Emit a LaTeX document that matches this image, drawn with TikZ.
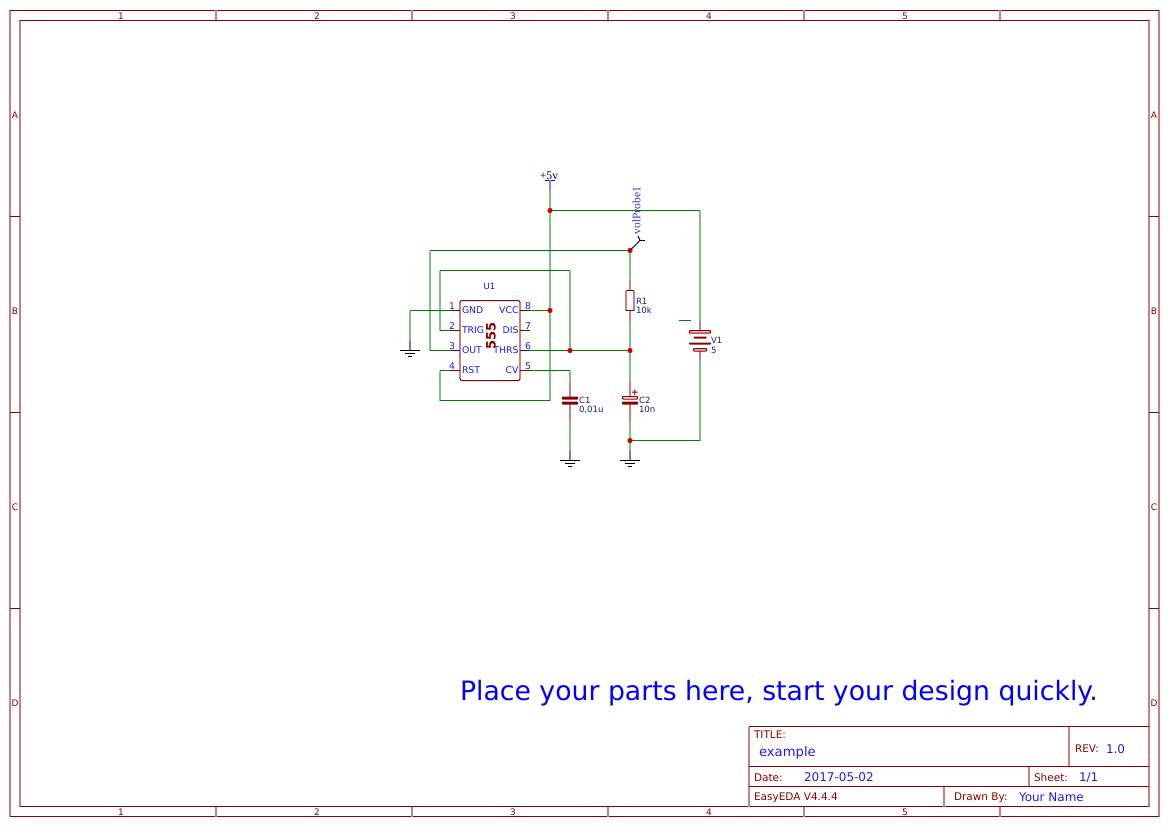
\documentclass[tikz,border=0pt]{standalone}
\usepackage{fontspec}
\setmainfont{DejaVu Sans}
\newfontfamily\serifprobe{Liberation Serif}
\newcommand{\fsz}[1]{\fontsize{\dimexpr#1pt*3/4\relax}{\dimexpr#1pt*9/10\relax}\selectfont}
\definecolor{edared}{HTML}{8C0000}
\definecolor{edaredv}{HTML}{C88080}
\definecolor{wiregreen}{HTML}{008000}
\definecolor{wiregreenv}{HTML}{80C080}
\definecolor{junction}{HTML}{CC0000}
\definecolor{pintext}{HTML}{1A1AFF}
\definecolor{refnavy}{HTML}{1A1A8C}
\definecolor{probetext}{HTML}{3333CC}
\definecolor{vcctext}{HTML}{000050}
\tikzset{
  base/.style={inner sep=0pt,outer sep=0pt},
  frameline/.style={draw=edared,line width=0.75pt},
  framev/.style={draw=edaredv,line width=1.5pt},
  wire/.style={draw=wiregreen,line width=0.75pt},
  vwire/.style={draw=wiregreenv,line width=1.5pt},
  pinline/.style={draw=edared,line width=0.75pt},
  pinv/.style={draw=edaredv,line width=1.5pt},
  groundline/.style={draw=black,line width=0.75pt},
  groundstem/.style={draw=black!50,line width=1.5pt},
  dot/.style={base,circle,fill=junction,minimum size=3.7pt},
  frametext/.style={base,text=edared,font=\fsz{9}},
  chiptext/.style={base,text=pintext,font=\fsz{9.3}},
  reftext/.style={base,text=refnavy,font=\fsz{8.6},anchor=west},
  titlered/.style={base,text=edared,font=\fsz{10.5},anchor=west},
  titleblue/.style={base,text=pintext,font=\fsz{12},anchor=west},
  plate/.style={fill=edared,draw=none,rounded corners=0.5pt},
  hollowplate/.style={draw=edared,fill=edaredv!40,line width=0.75pt,rounded corners=0.5pt},
}
\begin{document}
\begin{tikzpicture}[x=0.75pt,y=-0.75pt]
\useasboundingbox (0,-0.5) rectangle (1169,826.5);
% sheet frame
\draw[framev] (10,10) -- (10,816);
\draw[framev] (1159,10) -- (1159,816);
\draw[framev] (20,20) -- (20,806);
\draw[framev] (1149,20) -- (1149,806);
\draw[frameline] (10,10) -- (1159,10);
\draw[frameline] (10,816) -- (1159,816);
\draw[frameline] (20,20) -- (1149,20);
\draw[frameline] (20,806) -- (1149,806);
\foreach \x in {216,412,608,804,1000}{
  \draw[framev] (\x,10) -- (\x,20);
  \draw[framev] (\x,806) -- (\x,816);
}
\foreach \y in {216,412,608}{
  \draw[frameline] (10,\y) -- (20,\y);
  \draw[frameline] (1149,\y) -- (1159,\y);
}
\foreach \t/\x in {1/121,2/317,3/513,4/709,5/905}{
  \node[frametext] (top\t) at (\x,15.5) {\t};
  \node[frametext] (bot\t) at (\x,811.5) {\t};
}
\foreach \t/\y in {A/115,B/311,C/507,D/703}{
  \node[frametext] (left\t) at (15,\y) {\t};
  \node[frametext] (right\t) at (1154,\y) {\t};
}
% title block
\draw[framev] (749,726) -- (749,806);
\draw[framev] (1069,726) -- (1069,766);
\draw[framev] (1029,766) -- (1029,786);
\draw[framev] (944,786) -- (944,806);
\draw[frameline] (749,726) -- (1149,726);
\draw[frameline] (749,766) -- (1149,766);
\draw[frameline] (749,786) -- (1149,786);
\node[titlered] (ttitle) at (754,734.5) {TITLE:};
\node[base,text=pintext,font=\fsz{13.2},anchor=west] (tex) at (759,752.5) {example};
\node[titlered] (trev) at (1075,748) {REV:};
\node[titleblue] (trevv) at (1106,748.5) {1.0};
\node[titlered] (tdate) at (754,777.5) {Date:};
\node[titleblue] (tdatev) at (804,776.5) {2017-05-02};
\node[titlered] (tsheet) at (1034,777.5) {Sheet:};
\node[titleblue] (tsheetv) at (1079,777) {1/1};
\node[titlered] (teda) at (754,797.5) {EasyEDA V4.4.4};
\node[titlered] (tdrawn) at (954,797.5) {Drawn By:};
\node[titleblue] (tname) at (1019,797) {Your Name};
\node[base,text=blue,font=\fsz{26.7},anchor=west] (place) at (460,692.5) {Place your parts here, start your design quickly.};
% anchor points
\coordinate (p1) at (450,310);\coordinate (p1i) at (460,310);
\coordinate (p2) at (450,330);\coordinate (p2i) at (460,330);
\coordinate (p3) at (450,350);\coordinate (p3i) at (460,350);
\coordinate (p4) at (450,370);\coordinate (p4i) at (460,370);
\coordinate (p8) at (530,310);\coordinate (p8i) at (520,310);
\coordinate (p7) at (530,330);\coordinate (p7i) at (520,330);
\coordinate (p6) at (530,350);\coordinate (p6i) at (520,350);
\coordinate (p5) at (530,370);\coordinate (p5i) at (520,370);
\coordinate (vccpin) at (550,190);
\coordinate (vcctop) at (550,180);
\coordinate (vccbot) at (550,400);
\coordinate (g1top) at (410,340);\coordinate (g1) at (410,350);
\coordinate (g2top) at (570,450);\coordinate (g2) at (570,460);
\coordinate (g3top) at (630,450);\coordinate (g3) at (630,460);
\coordinate (c1top) at (570,380);\coordinate (c1a) at (570,397);
\coordinate (c1b) at (570,403);\coordinate (c1bot) at (570,420);
\coordinate (c2top) at (630,380);\coordinate (c2b) at (630,403);
\coordinate (c2bot) at (630,420);\coordinate (c2a) at (630,397);
\coordinate (r1top) at (630,280);\coordinate (r1a) at (630,290);
\coordinate (r1b) at (630,310);\coordinate (r1bot) at (630,320);
\coordinate (v1top) at (700,320);\coordinate (v1a) at (700,331);
\coordinate (v1d) at (700,349.5);\coordinate (v1bot) at (700,360);
\coordinate (probe) at (640,240);
\coordinate (probea) at (645,240);
\coordinate (probeb) at (638,235.5);
\node[dot] (j1) at (550,210) {};
\node[dot] (j2) at (630,250) {};
\node[dot] (j3) at (550,310) {};
\node[dot] (j4) at (570,350) {};
\node[dot] (j5) at (630,350) {};
\node[dot] (j6) at (630,440) {};
% vertical wires
\path[vwire] (vccpin) -- (vccbot);
\path[vwire] (700,210) -- (v1top);
\path[vwire] (700,440) -- (v1bot);
\path[vwire] (430,250) -- (430,350);
\path[vwire] (j2.center) -- (r1top);
\path[vwire] (440,330) -- (440,270);
\path[vwire] (570,270) -- (j4.center);
\path[vwire] (410,310) -- (g1top);
\path[vwire] (570,370) -- (c1top);
\path[vwire] (c1bot) -- (g2top);
\path[vwire] (r1bot) -- (c2top);
\path[vwire] (c2bot) -- (g3top);
\path[vwire] (440,370) -- (440,400);
% horizontal wires
\path[wire] (vccbot) -- (440,400);
\path[wire] (440,370) -- (p4);
\path[wire] (j1.center) -- (700,210);
\path[wire] (j6.center) -- (700,440);
\path[wire] (j2.center) -- (430,250);
\path[wire] (430,350) -- (p3);
\path[wire] (p2) -- (440,330);
\path[wire] (440,270) -- (570,270);
\path[wire] (p1) -- (410,310);
\path[wire] (p8) -- (j3.center);
\path[wire] (p6) -- (j5.center);
\path[wire] (p5) -- (570,370);
\path[wire] (679,320) -- (691,320);
% junction dots on top
\node[dot] (k1) at (j1) {};
\node[dot] (k3) at (j3) {};
\node[dot] (k4) at (j4) {};
\node[dot] (k5) at (j5) {};
\node[dot] (k6) at (j6) {};
% U1
\draw[pinv] (460,301.5) -- (460,378.5);
\draw[pinv] (520,301.5) -- (520,378.5);
\draw[pinline,rounded corners=1.5pt] (460,302) -- (460,300) -- (520,300) -- (520,302);
\draw[pinline,rounded corners=1.5pt] (460,378) -- (460,380) -- (520,380) -- (520,378);
\foreach \a/\b in {p1/p1i,p2/p2i,p3/p3i,p4/p4i,p8/p8i,p7/p7i,p6/p6i,p5/p5i}
  \draw[pinline] (\a) -- (\b);
\foreach \n/\t/\y in {a/GND/310,b/TRIG/330,c/OUT/350,d/RST/370}
  \node[chiptext,anchor=west] (l\n) at (462,\y) {\t};
\foreach \n/\t/\y in {e/VCC/310,f/DIS/330,g/THRS/350,h/CV/370}
  \node[chiptext,anchor=east] (l\n) at (518.5,\y) {\t};
\foreach \n/\y in {1/306,2/326,3/346,4/366}
  \node[chiptext] (n\n) at (452,\y) {\n};
\node[chiptext] (n8) at (528,306) {8};
\node[chiptext] (n7) at (528,326) {7};
\node[chiptext] (n6) at (528,346) {6};
\node[chiptext] (n5) at (528,366) {5};
\node[base,rotate=90,text=edared,font=\fsz{13}\bfseries] (chip) at (491,335.5) {555};
\node[base,text=refnavy,font=\fsz{8.6}] (u1) at (489.5,285.5) {U1};
% +5v
\draw[draw=blue,line width=0.75pt] (545,180) -- (555,180);
\draw[draw=blue!50,line width=1.5pt] (vcctop) -- (vccpin);
\node[base,text=vcctext,font=\serifprobe\fsz{11.7}] (vcc) at (549,175) {+5v};
% R1
\draw[pinv] (r1top) -- (r1a);
\draw[pinv] (r1b) -- (r1bot);
\draw[pinv] (626,290) -- (626,310);
\draw[pinv] (634,290) -- (634,310);
\draw[pinline] (626,290) -- (634,290);
\draw[pinline] (626,310) -- (634,310);
\node[reftext] (r1n) at (636,301) {R1};
\node[reftext] (r1v) at (636,310) {10k};
% C1
\draw[pinv] (c1top) -- (c1a);
\draw[pinv] (c1b) -- (c1bot);
\path[plate] (562,396) rectangle (578,399);
\path[plate] (562,401) rectangle (578,404);
\node[reftext] (c1n) at (579,400) {C1};
\node[reftext] (c1v) at (579,409) {0,01u};
% C2
\draw[pinv] (c2top) -- (c2a);
\draw[pinv] (c2b) -- (c2bot);
\draw[hollowplate,fill=white] (622.5,396) rectangle (637.5,398.5);
\path[plate] (622,401) rectangle (638,404);
\node[base,text=edared,font=\fsz{9}\bfseries] (c2plus) at (635,392) {+};
\node[reftext] (c2n) at (639,400) {C2};
\node[reftext] (c2v) at (639,409) {10n};
% V1
\draw[pinv] (v1top) -- (v1a);
\draw[pinv] (v1d) -- (v1bot);
\draw[hollowplate] (689.5,330) rectangle (710.5,332.5);
\path[plate] (693.5,336) rectangle (706.5,338);
\path[plate] (689,342) rectangle (711,344);
\draw[hollowplate] (693.5,348) rectangle (706.5,350.5);
\node[reftext] (v1n) at (711,340) {V1};
\node[reftext] (v1v) at (711,349.5) {5};
% grounds
\foreach \g/\c in {g1/g1top,g2/g2top,g3/g3top}{
  \draw[groundstem] (\c) -- (\g);
  \draw[groundline] ([xshift=-7.5pt]\g) -- ([xshift=7.5pt]\g);
  \draw[groundline] ([xshift=-3.75pt,yshift=-2.25pt]\g) -- ([xshift=3.75pt,yshift=-2.25pt]\g);
  \draw[groundline] ([xshift=-1.5pt,yshift=-4.5pt]\g) -- ([xshift=1.5pt,yshift=-4.5pt]\g);
}
% probe
\draw[line width=0.75pt,black] (j2.center) -- (probe);
\draw[line width=0.75pt,black] (probe) -- (probea);
\draw[line width=0.75pt,black] (probe) -- (probeb);
\node[dot] (k2) at (j2) {};
\node[base,rotate=90,text=probetext,font=\serifprobe\fsz{11.5}] (probet) at (636.5,210) {volProbe1};
\end{tikzpicture}
\end{document}
